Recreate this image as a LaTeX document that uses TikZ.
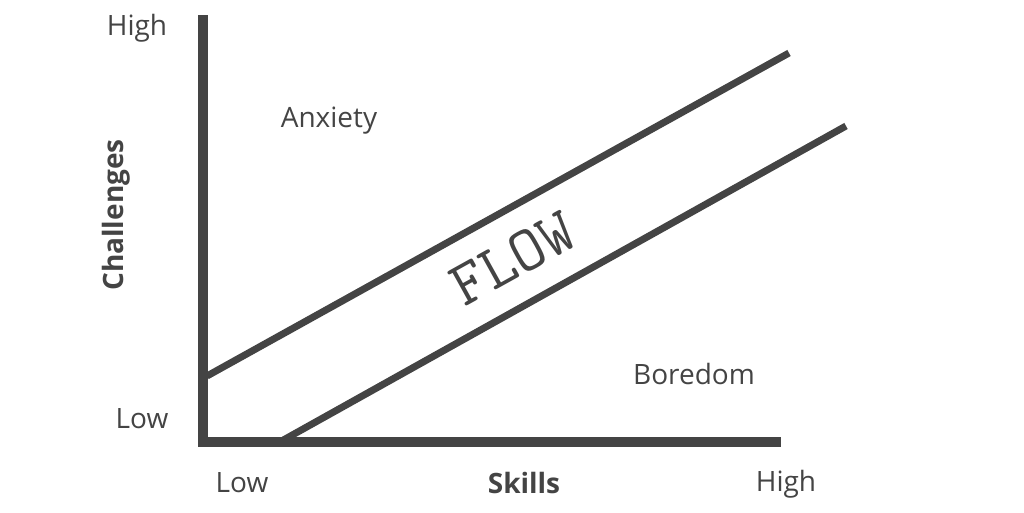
\documentclass[tikz,border=0pt]{standalone}
\usepackage{fontspec}
\setmainfont{Open Sans}
\setmonofont{Latin Modern Mono}
\definecolor{axisgray}{HTML}{444444}

\begin{document}
\begin{tikzpicture}[x=1pt,y=-1pt,
    axisline/.style={line width=10pt, color=axisgray},
    bandline/.style={line width=7pt, color=axisgray},
    lbl/.style={text=axisgray, font=\fontsize{28}{32}\selectfont, inner sep=0pt},
    boldlbl/.style={lbl, font=\fontsize{28}{32}\selectfont\bfseries}]
			\useasboundingbox (0,0) rectangle (1024,512);
			% axes
			\coordinate (top) at (203,15);
			\coordinate (origin) at (203,442);
			\coordinate (right) at (781,442);
			\draw[axisline] (top) -- (origin) -- (right);
			% flow band
			\coordinate (upA) at (207,376);
			\coordinate (upB) at (789,53);
			\coordinate (loA) at (278,443);
			\coordinate (loB) at (846,126);
			\draw[bandline] (upA) -- (upB);
			\draw[bandline] (loA) -- (loB);
			% labels
			\node[lbl] (yhigh) at (137,28) {High};
			\node[lbl] (ylow) at (142,419) {Low};
			\node[lbl] (xlow) at (242,483) {Low};
			\node[boldlbl] (skills) at (524,483) {Skills};
			\node[lbl] (xhigh) at (786,484) {High};
			\node[boldlbl, rotate=90] (chall) at (116,215) {Challenges};
			\node[lbl] (anx) at (329,121) {Anxiety};
			\node[lbl] (bore) at (694,374) {Boredom};
			\node[text=axisgray, font=\fontsize{64}{68}\ttfamily\bfseries, rotate=29, inner sep=0pt] (flow) at (513,258) {FLOW};
		\end{tikzpicture}
\end{document}
